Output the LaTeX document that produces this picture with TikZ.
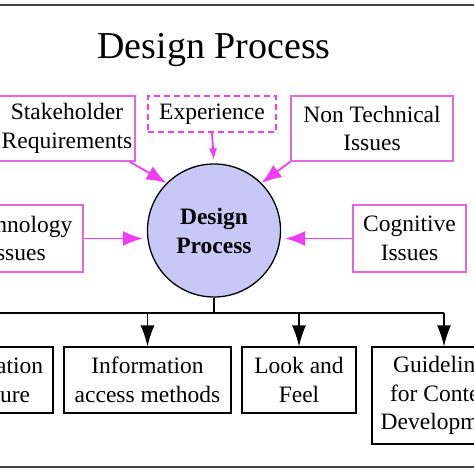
\documentclass[tikz,border=0pt]{standalone}
\usepackage{fontspec}
\setmainfont{Liberation Serif}
\usetikzlibrary{arrows.meta}
\definecolor{boxpink}{HTML}{E268E2}
\definecolor{arrowpink}{HTML}{F23CF2}
\definecolor{circfill}{HTML}{C8C8F6}
\definecolor{framegray}{HTML}{444444}
\begin{document}
\begin{tikzpicture}[x=1pt, y=-1pt,
    txt/.style={font=\fontsize{23.5}{28.5}\selectfont, align=center, inner sep=0pt},
    pinkbox/.style={txt, draw=boxpink, line width=1.5pt},
    blackbox/.style={txt, draw=black, line width=1.3pt},
    pinkarrow/.style={draw=arrowpink, line width=1.8pt, -{Latex[length=20pt,width=15pt]}},
    smallarrow/.style={draw=arrowpink, line width=1.8pt, -{Latex[length=12pt,width=8pt]}},
    blackarrow/.style={draw=black, line width=1.3pt, -{Latex[length=21pt,width=14pt]}}]
    \def\W{474}
    \def\busY{313}
    
    \useasboundingbox (0,0) rectangle (\W,\W);
    \clip (0,0) rectangle (\W,\W);
    
    \draw[framegray, line width=2pt] (0,4.5) -- (\W,4.5);
    \draw[framegray, line width=2pt] (0,467) -- (\W,467);
    
    \node[font=\fontsize{38}{44}\selectfont] (title) at (214,50) {Design Process};
    
    \node[pinkbox, minimum width=136pt, minimum height=65pt] (stake) at (67,128.5) {Stakeholder\\Requirements};
    \node[txt, draw=arrowpink, line width=2.4pt, dash pattern=on 6pt off 4pt, minimum width=128pt, minimum height=36pt] (exp) at (212,114) {Experience};
    \node[pinkbox, minimum width=162pt, minimum height=65pt] (nontech) at (372,128.5) {Non Technical\\Issues};
    \node[pinkbox, minimum width=132pt, minimum height=67pt] (tech) at (17,238.5) {Technology\\Issues};
    \node[pinkbox, minimum width=113pt, minimum height=67pt] (cog) at (409.5,238.5) {Cognitive\\Issues};
    
    \node[circle, draw=black, line width=1.3pt, fill=circfill, minimum size=133pt, inner sep=0pt,
      font=\fontsize{23.5}{29}\selectfont\bfseries, align=center] (dp) at (214,230.5) {Design\\Process};
    
    \draw[pinkarrow] ([xshift=-6pt]stake.south east) -- (dp.135);
    \draw[pinkarrow] (nontech.south west) -- (dp.45);
    \draw[smallarrow, shorten >=3pt] (exp.south) -- (dp.north);
    \draw[pinkarrow, shorten >=4pt] (tech.east) -- (tech.east -| dp.west);
    \draw[pinkarrow, shorten >=4pt] (cog.west) -- (cog.west -| dp.east);
    
    \node[blackbox, minimum width=132pt, minimum height=66pt] (info) at (-13,380) {Information\\Structure};
    \node[blackbox, minimum width=167pt, minimum height=66pt] (access) at (147.5,380) {Information\\access methods};
    \node[blackbox, minimum width=114pt, minimum height=66pt] (look) at (299,380) {Look and\\Feel};
    \node[blackbox, minimum width=144pt, minimum height=97pt] (guide) at (444,395.5) {Guidelines\\for Content\\Development};
    
    \coordinate (bus) at (214,\busY);
    \draw[line width=1.3pt] (dp.south) -- (bus);
    \draw[line width=1.3pt] (bus -| info.north) -- (bus -| guide.north);
    \foreach \b in {info, access, look, guide}{
      \draw[blackarrow] (bus -| \b.north) -- (\b.north);
    }
\end{tikzpicture}
\end{document}
